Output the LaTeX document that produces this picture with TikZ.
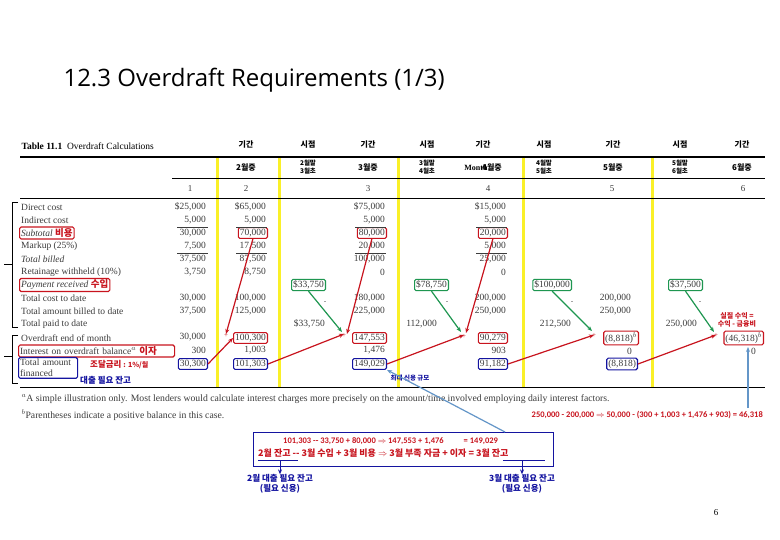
\documentclass[tikz,border=0pt]{standalone}
\usepackage{fontspec}
\setmainfont{Liberation Serif}
\newfontfamily\kr{Noto Sans CJK KR}
\newfontfamily\ttl{Open Sans}
\newfontfamily\carl{Carlito}
\usetikzlibrary{arrows.meta}
\definecolor{rd}{RGB}{200,20,30}
\definecolor{bl}{RGB}{20,20,160}
\definecolor{gr}{RGB}{30,150,80}
\definecolor{lb}{RGB}{100,150,200}
\definecolor{ny}{RGB}{250,240,40}
\definecolor{tx}{RGB}{60,60,60}
\tikzset{
 val/.style={anchor=east,font=\fontsize{9.5}{10}\selectfont,text=tx,inner sep=1pt},
 lab/.style={anchor=west,font=\fontsize{9.5}{10}\selectfont,text=tx,inner sep=1pt},
 hd/.style={font=\kr\bfseries\fontsize{8}{8}\selectfont,align=center,inner sep=0pt},
 hs/.style={font=\kr\bfseries\fontsize{6.5}{7.5}\selectfont,align=center,inner sep=0pt},
 rbox/.style={draw=rd,line width=1.1pt,rounded corners=1.5pt,inner sep=1.5pt},
 bbox/.style={draw=bl,line width=1.1pt,rounded corners=1.5pt,inner sep=1.5pt},
 gbox/.style={draw=gr,line width=1.1pt,rounded corners=1.5pt,inner sep=1.5pt},
 rarr/.style={rd,line width=1.2pt,-{Stealth[length=5pt,width=4pt]}},
 garr/.style={gr,line width=1.2pt,-{Stealth[length=5pt,width=4pt]}},
 barr/.style={lb,line width=1.2pt,-{Stealth[length=5pt,width=4pt]}},
 pl/.style={text=rd,font=\fontsize{7}{7}\selectfont,inner sep=0pt},
 kt/.style={font=\kr\bfseries\fontsize{8.5}{10}\selectfont,inner sep=0pt},
}
\begin{document}
\begin{tikzpicture}[x=1pt,y=-1pt]
\useasboundingbox (0,0) rectangle (780,540);
\fill[white] (0,0) rectangle (780,540);
\node[anchor=west,font=\ttl\fontsize{24}{24}\selectfont] (title) at (60,80) {12.3 Overdraft Requirements (1/3)};
% yellow lines
\foreach \x in {217,279,398,523,652} \draw[ny,line width=3pt] (\x,157) -- (\x,388);
% rules
\draw[line width=1.4pt] (20,157) -- (765,157);
\draw[line width=0.6pt] (172,178) -- (765,178);
\draw[line width=0.6pt] (20,198) -- (765,198);
\draw[line width=1pt] (20,388) -- (765,388);
\node[anchor=west,font=\fontsize{9.5}{9.5}\selectfont] (tab) at (18,146) {\textbf{Table 11.1}\ \ Overdraft Calculations};
% header
\foreach \x/\t in {246/기간,308/시점,368/기간,427/시점,483/기간,544/시점,613/기간,680/시점,742/기간}
  \node[hd] at (\x,145) {\t};
\foreach \x/\t in {246/2월중,368/3월중,613/5월중,742/6월중}
  \node[hd] at (\x,168) {\t};
\node[font=\bfseries\fontsize{8}{8}\selectfont,inner sep=0pt] at (476,168) {Month};
\node[hd] at (492,168) {4월중};
\foreach \x/\t in {308/{2월말\\3월초},427/{3월말\\4월초},544/{4월말\\5월초},680/{5월말\\6월초}}
  \node[hs] at (\x,167) {\t};
\foreach \x/\t in {190/1,246/2,368/3,488/4,612/5,743/6}
  \node[font=\fontsize{9}{9}\selectfont,text=tx] at (\x,189) {\t};
% row labels
\node[lab] at (20,207) {Direct cost};
\node[lab] at (20,220) {Indirect cost};
\node[lab,rbox,anchor=west] (sub) at (19,233) {\textit{Subtotal} {\kr\bfseries\textcolor{rd}{비용}}};
\node[lab] at (20,246) {Markup (25\%)};
\node[lab] at (20,259) {\textit{Total billed}};
\node[lab] at (20,272) {Retainage withheld (10\%)};
\node[lab,rbox,anchor=west] (pay) at (19,285) {\textit{Payment received} {\kr\bfseries\textcolor{rd}{수입}}};
\node[lab] at (20,298) {Total cost to date};
\node[lab] at (20,311) {Total amount billed to date};
\node[lab] at (20,324) {Total paid to date};
\node[lab] at (20,338) {Overdraft end of month};
\node[lab,rbox,anchor=west,text width=153pt,align=left] (int) at (18,351) {Interest on overdraft balance$^a$ {\kr\bfseries\textcolor{rd}{이자}}};
\node[lab,bbox,anchor=north west,align=left,text width=56pt] (tot) at (18,357) {Total amount\\[1pt]financed};
\node[kt,text=rd,anchor=west] (rate) at (90,365) {조달금리 {\fontsize{7}{7}\selectfont: 1\%/월}};
\node[kt,text=bl,anchor=west] (need) at (80,380) {대출 필요 잔고};
% brackets
\draw[line width=1pt] (18,203) -- (12,203) -- (12,328) -- (18,328);
\draw[line width=1pt] (12,265) -- (4,265);
\draw[line width=1pt] (18,336) -- (12,336) -- (12,384) -- (18,384);
\draw[line width=1pt] (12,357) -- (4,357);
% values col1
\foreach \r/\t in {0/{\$25,000},1/{5,000},2/{30,000},3/{7,500},4/{37,500},5/{3,750},7/{30,000},8/{37,500},10/{30,000},11/{300}}
  \node[val] at (207,{207+13*\r}) {\t};
\node[val,bbox] (c1t) at (208,364) {30,300};
% col2
\foreach \r/\t in {0/{\$65,000},1/{5,000},3/{17,500},4/{87,500},5/{8,750},7/{100,000},8/{125,000},11/{1,003}}
  \node[val] at (267,{207+13*\r}) {\t};
\node[val,rbox] (c2s) at (268,233) {70,000};
\node[val,rbox] (c2o) at (268,338) {100,300};
\node[val,bbox] (c2t) at (268,364) {101,303};
% mid2
\node[val,gbox] (g2) at (326,285) {\$33,750};
\node[val] at (326,324) {\$33,750};
% col3
\foreach \r/\t in {0/{\$75,000},1/{5,000},3/{20,000},4/{100,000},5/{0},7/{180,000},8/{225,000},11/{1,476}}
  \node[val] at (386,{207+13*\r}) {\t};
\node[val,rbox] (c3s) at (387,233) {80,000};
\node[val,rbox] (c3o) at (387,338) {147,553};
\node[val,bbox] (c3t) at (387,364) {149,029};
% mid3
\node[val,gbox] (g3) at (449,285) {\$78,750};
\node[val] at (438,324) {112,000};
% col4
\foreach \r/\t in {0/{\$15,000},1/{5,000},3/{5,000},4/{25,000},5/{0},7/{200,000},8/{250,000},11/{903}}
  \node[val] at (507,{207+13*\r}) {\t};
\node[val,rbox] (c4s) at (508,233) {20,000};
\node[val,rbox] (c4o) at (508,338) {90,279};
\node[val,bbox] (c4t) at (508,364) {91,182};
% mid4
\node[val,gbox] (g4) at (572,285) {\$100,000};
\node[val] at (572,324) {212,500};
% col5
\node[val] at (632,298) {200,000};
\node[val] at (632,311) {250,000};
\node[val,rbox] (c5o) at (639,338) {(8,818)$^b$};
\node[val] at (633,351) {0};
\node[val,bbox] (c5t) at (638,364) {(8,818)};
% mid5
\node[val,gbox] (g5) at (703,285) {\$37,500};
\node[val] at (698,324) {250,000};
% col6
\node[val,rbox] (c6o) at (764,338) {(46,318)$^b$};
\node[val] at (757,351) {0};
% underlines
\foreach \x in {177,236,355,476} {\draw[tx,line width=0.5pt] (\x,227) -- (\x+31,227); \draw[tx,line width=0.5pt] (\x,253) -- (\x+31,253);}
% notes
\node[kt,text=rd,align=center,font=\kr\bfseries\fontsize{7}{8}\selectfont] (real) at (737,320) {실질 수익 =\\수익 - 금융비};
\node[kt,text=bl,font=\kr\bfseries\fontsize{6.5}{6.5}\selectfont] (max) at (410,378) {최대 신용 규모};
% red arrows
\draw[rarr] (c2s.south) -- (226,334);
\draw[rarr] (c1t.east) -- (c2o.west);
\draw[rarr] (c2t.east) -- (344,334);
\draw[rarr] (c3s.south) -- (347,334);
\draw[rarr] (c3t.east) -- (464,335);
\draw[rarr] (c4s.south) -- (466,333);
\draw[rarr] (c4t.east) -- (594,335);
\draw[rarr] (c5t.east) -- (716,335);
% green arrows
\draw[garr] (g2.south) -- (342,332);
\draw[garr] (g3.south) -- (461,332);
\draw[garr] (g4.south) -- (592,331);
\draw[garr] (g5.south) -- (714,332);
\foreach \x/\y in {226/336,344/336,464/337,594/336,716/336} \node[pl] at (\x,\y) {+};
\foreach \x/\y in {325/303,447/303,572/303,700/303} \node[font=\fontsize{6}{6}\selectfont] at (\x,\y) {-};
% footnotes
\node[anchor=west,font=\fontsize{9.7}{10}\selectfont,text=tx] (fa) at (18,399) {$^a$A simple illustration only. Most lenders would calculate interest charges more precisely on the amount/time involved employing daily interest factors.};
\node[anchor=west,font=\fontsize{9.7}{10}\selectfont,text=tx] (fb) at (18,415) {$^b$Parentheses indicate a positive balance in this case.};
\node[anchor=east,font=\carl\bfseries\fontsize{8.5}{8.5}\selectfont,text=rd,inner sep=0pt] (f46) at (763,415) {250,000 - 200,000 $\Rightarrow$ 50,000 - (300 + 1,003 + 1,476 + 903) = 46,318};
% lower box
\draw[bl,line width=1pt] (253,432) rectangle (553,466);
\node[font=\carl\bfseries\fontsize{8.5}{8.5}\selectfont,text=rd,anchor=west,inner sep=0pt] (eq1) at (283,441) {101,303 -- 33,750 + 80,000 $\Rightarrow$ 147,553 + 1,476\hspace{20pt}= 149,029};
\node[kt,text=rd,anchor=west,font=\kr\bfseries\fontsize{9}{9}\selectfont] (eq2) at (258,453) {2월 잔고 -- 3월 수입 + 3월 비용 $\Rightarrow$ 3월 부족 자금 + 이자 = 3월 잔고};
\draw[bl,line width=0.8pt] (258,460) -- (298,460);
\draw[bl,line width=0.8pt] (503,460) -- (545,460);
\node[kt,text=bl,align=center] (l2) at (280,484) {2월 대출 필요 잔고\\(필요 신용)};
\node[kt,text=bl,align=center] (l3) at (522,484) {3월 대출 필요 잔고\\(필요 신용)};
\draw[bl,line width=1pt,-{Stealth[length=5pt,width=4pt]}] (280,460) -- (l2.north);
\draw[bl,line width=1pt,-{Stealth[length=5pt,width=4pt]}] (522,460) -- (l3.north);
% light blue arrows
\draw[barr] (505,432) -- (c3t.south east);
\draw[barr] (748,408) -- (748,347);
\node[font=\fontsize{9}{9}\selectfont] (pg) at (716,513) {6};
\end{tikzpicture}
\end{document}
